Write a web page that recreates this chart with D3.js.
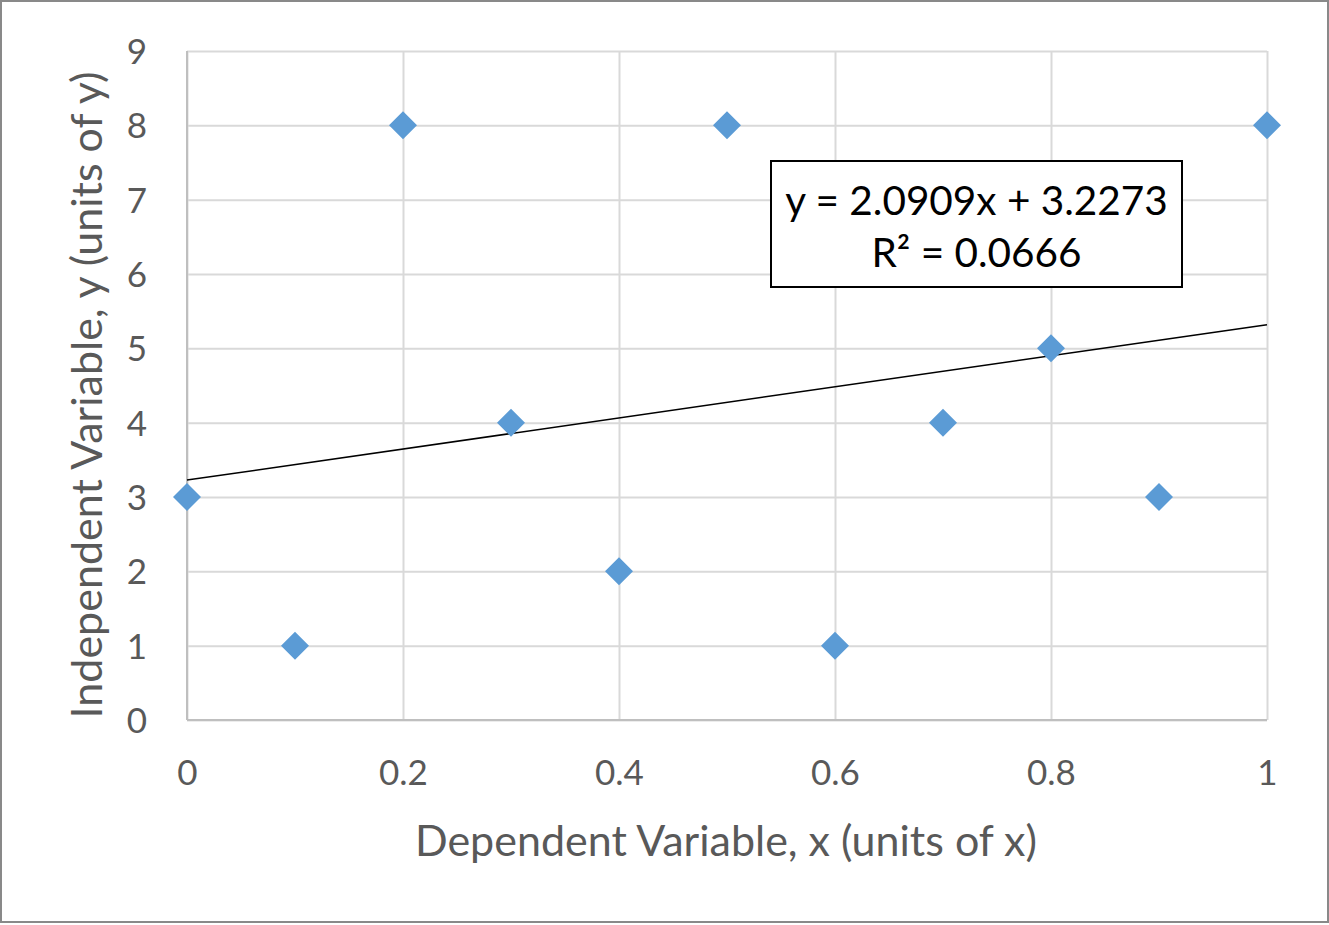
<!DOCTYPE html>
<html>
<head>
<meta charset="utf-8">
<script src="https://cdn.jsdelivr.net/npm/d3@7"></script>
<style>
    html, body { margin: 0; padding: 0; background: #fff; }
    svg { display: block; font-family: Lato, "Open Sans", "Noto Sans", sans-serif; }
</style>
</head>
<body>
<svg id="chart" width="1329" height="925"></svg>
<script>
// data
const xValues = [0, 0.1, 0.2, 0.3, 0.4, 0.5, 0.6, 0.7, 0.8, 0.9, 1];
const yValues = [3, 1, 8, 4, 2, 8, 1, 4, 5, 3, 8];
const xTicks = [0, 0.2, 0.4, 0.6, 0.8, 1];
const yTicks = [0, 1, 2, 3, 4, 5, 6, 7, 8, 9];
const trendSlope = 2.0909;
const trendIntercept = 3.2273;
const equationLines = ['y = 2.0909x + 3.2273', 'R² = 0.0666'];

const svg = d3.select('#chart');
const margin = { top: 51, right: 62, bottom: 205, left: 187 };
const width = 1329, height = 925;
const innerWidth = width - margin.left - margin.right;
const innerHeight = height - margin.top - margin.bottom;

// outer frame
svg.append('rect')
    .attr('x', 1).attr('y', 1)
    .attr('width', width - 2).attr('height', height - 4)
    .attr('fill', '#fff')
    .attr('stroke', '#898989')
    .attr('stroke-width', 2);

const g = svg.append('g').attr('transform', `translate(${margin.left},${margin.top})`);

const x = d3.scaleLinear().domain([0, 1]).range([0, innerWidth]);
const y = d3.scaleLinear().domain([0, 9]).range([innerHeight, 0]);

const textColor = '#595959';

// grid
g.append('g')
    .call(d3.axisLeft(y).tickValues(yTicks).tickSize(-innerWidth).tickFormat(''))
    .call((grp) => grp.select('.domain').remove())
    .call((grp) => grp.selectAll('line').attr('stroke', '#d9d9d9').attr('stroke-width', 2));

g.append('g')
    .attr('transform', `translate(0,${innerHeight})`)
    .call(d3.axisBottom(x).tickValues(xTicks).tickSize(innerHeight).tickFormat(''))
    .call((grp) => grp.select('.domain').remove())
    .call((grp) => grp.selectAll('line').attr('stroke', '#d9d9d9').attr('stroke-width', 2)
        .attr('y2', -innerHeight));

// axis lines
g.append('line')
    .attr('x1', 0).attr('x2', 0).attr('y1', 0).attr('y2', innerHeight)
    .attr('stroke', '#bfbfbf').attr('stroke-width', 2);
g.append('line')
    .attr('x1', 0).attr('x2', innerWidth).attr('y1', innerHeight).attr('y2', innerHeight)
    .attr('stroke', '#bfbfbf').attr('stroke-width', 2);

// tick labels
g.append('g')
    .call(d3.axisLeft(y).tickValues(yTicks).tickSize(0))
    .attr('font-family', null)
    .attr('font-size', null)
    .call((grp) => grp.select('.domain').remove())
    .call((grp) => grp.selectAll('text')
        .attr('x', -40)
        .attr('dy', '0.36em')
        .attr('fill', textColor)
        .attr('font-size', 35));

g.append('g')
    .attr('transform', `translate(0,${innerHeight})`)
    .call(d3.axisBottom(x).tickValues(xTicks).tickSize(0).tickFormat((d) => String(d)))
    .attr('font-family', null)
    .attr('font-size', null)
    .call((grp) => grp.select('.domain').remove())
    .call((grp) => grp.selectAll('text')
        .attr('y', 65)
        .attr('dy', 0)
        .attr('fill', textColor)
        .attr('font-size', 35));

// trendline
g.append('line')
    .attr('x1', x(0)).attr('y1', y(trendIntercept))
    .attr('x2', x(1)).attr('y2', y(trendIntercept + trendSlope))
    .attr('stroke', '#000').attr('stroke-width', 1.5);

// markers
const points = xValues.map((xv, i) => ({ x: xv, y: yValues[i] }));
g.selectAll('.point')
    .data(points)
    .enter()
    .append('path')
    .attr('class', 'point')
    .attr('d', 'M0,-14L14,0L0,14L-14,0Z')
    .attr('transform', (d) => `translate(${x(d.x)},${y(d.y)})`)
    .attr('fill', '#5b9bd5');

// equation box
const box = svg.append('g').attr('transform', 'translate(771,161)');
box.append('rect')
    .attr('width', 411).attr('height', 126)
    .attr('fill', '#fff').attr('stroke', '#000').attr('stroke-width', 2);
box.selectAll('text')
    .data(equationLines)
    .enter()
    .append('text')
    .attr('x', 205.5)
    .attr('y', (d, i) => 54 + i * 52)
    .attr('text-anchor', 'middle')
    .attr('font-size', 40.5)
    .attr('fill', '#000')
    .text((d) => d);

// axis titles
svg.append('text')
    .attr('x', 726).attr('y', 856)
    .attr('text-anchor', 'middle')
    .attr('font-size', 43)
    .attr('fill', textColor)
    .text('Dependent Variable, x (units of x)');

svg.append('text')
    .attr('transform', 'translate(102,395) rotate(-90)')
    .attr('text-anchor', 'middle')
    .attr('font-size', 43)
    .attr('fill', textColor)
    .text('Independent Variable, y (units of y)');
</script>
</body>
</html>
